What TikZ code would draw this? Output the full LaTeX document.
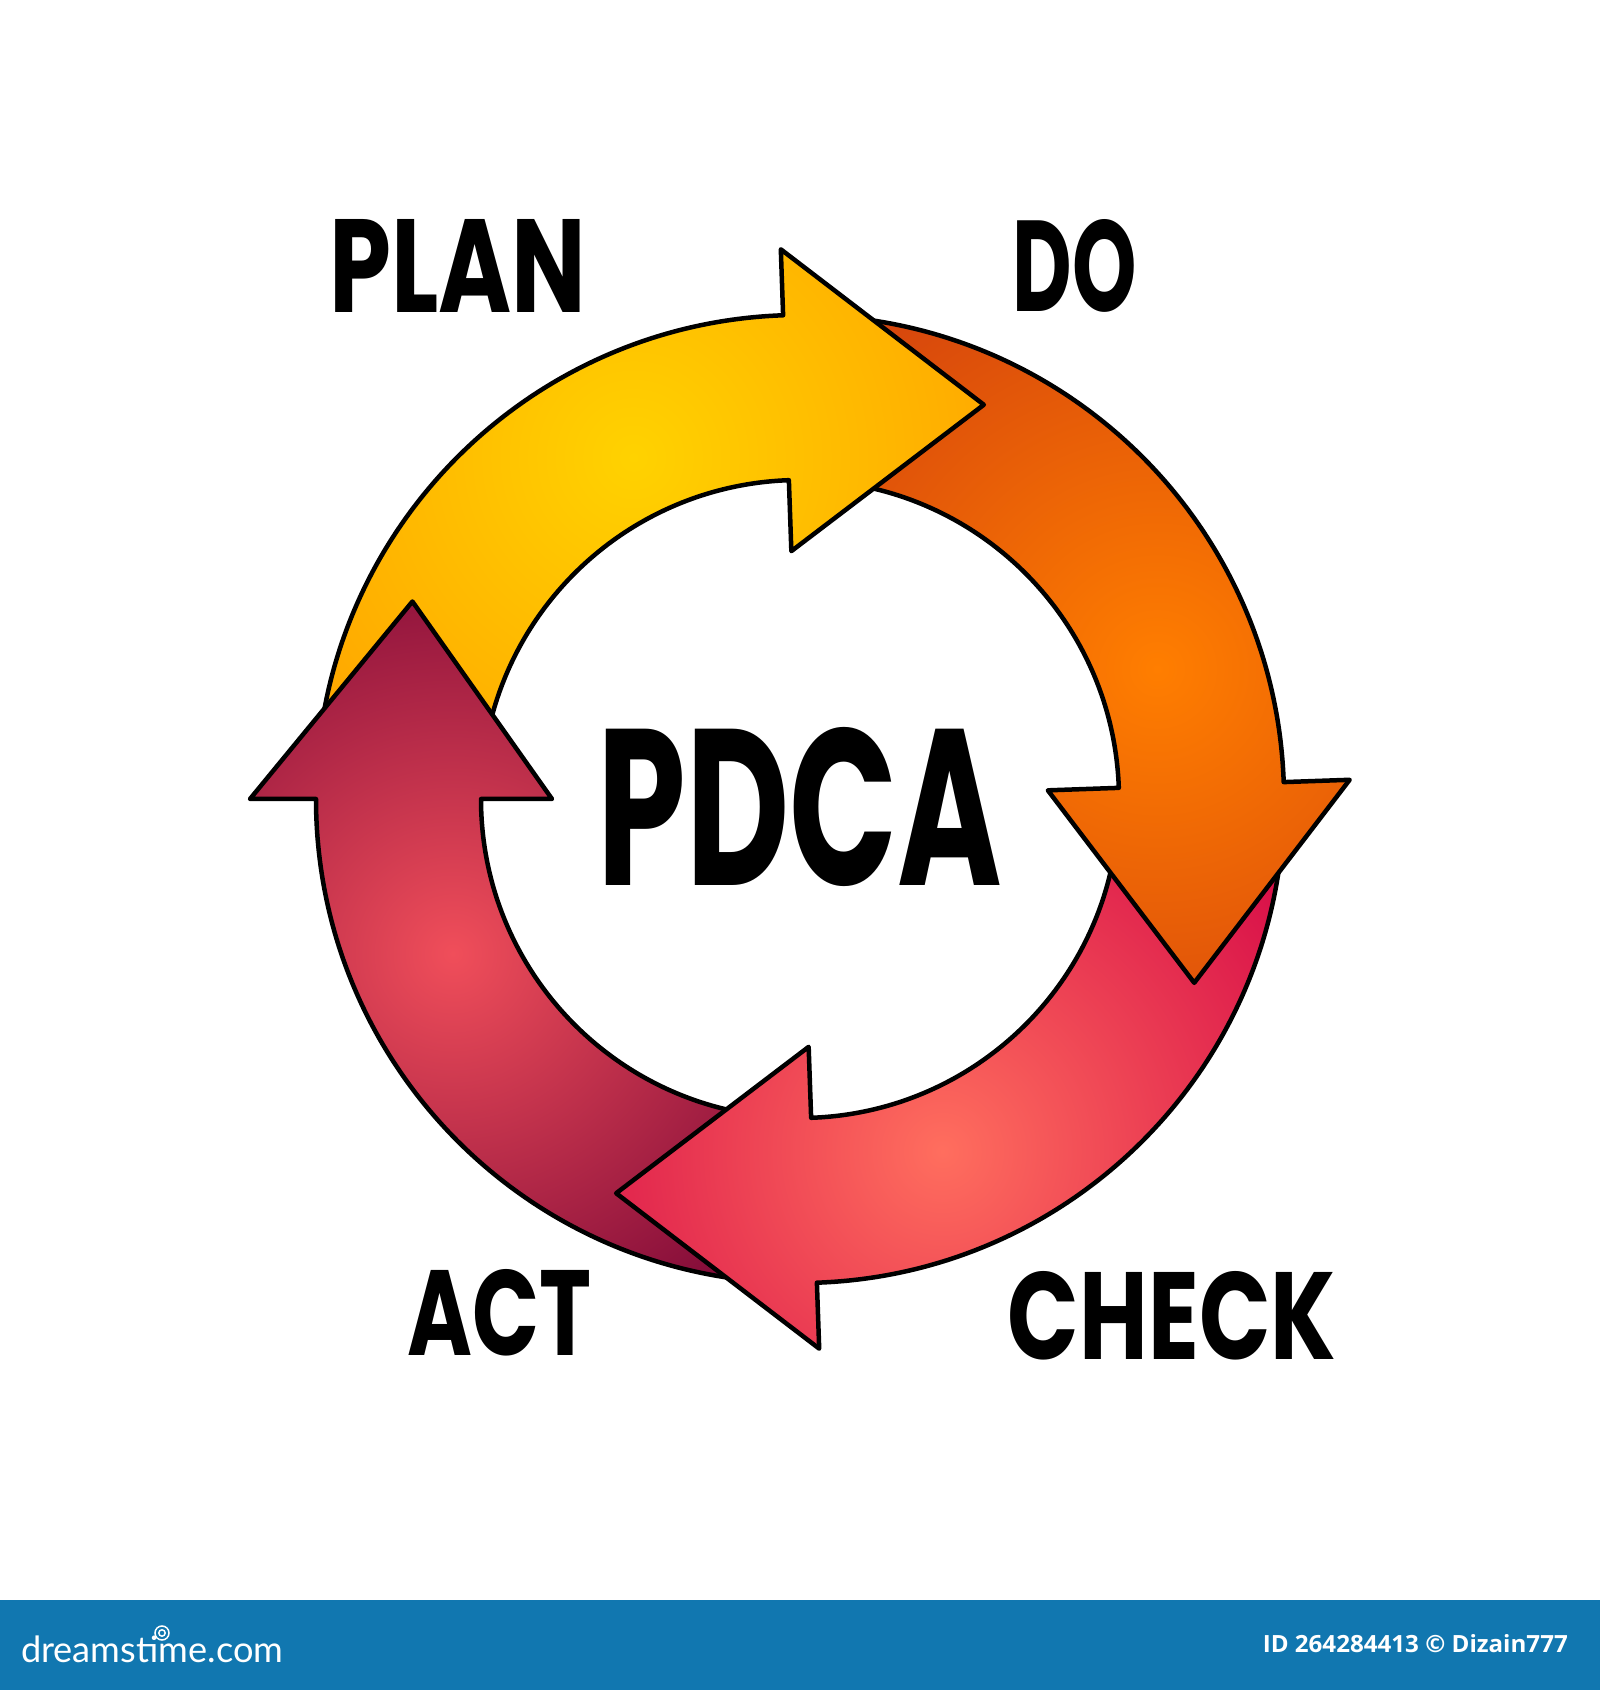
\documentclass[tikz,border=0pt]{standalone}
\usepackage{fontspec}
\usepackage{graphicx}
\setmainfont{Open Sans}
\newfontfamily\handfont{Poppins}
\newfontfamily\logofont{Lato}
\usetikzlibrary{calc}

\definecolor{planIn}{HTML}{FFD200}
\definecolor{planOut}{HTML}{FF9400}
\definecolor{doIn}{HTML}{FF7E00}
\definecolor{doOut}{HTML}{CF3C0F}
\definecolor{checkIn}{HTML}{FF6E5E}
\definecolor{checkOut}{HTML}{D20045}
\definecolor{actIn}{HTML}{F04E5A}
\definecolor{actOut}{HTML}{700033}
\definecolor{bannerblue}{HTML}{1177B0}

\tikzset{
  arrowline/.style={draw=black, line width=4.5pt, line join=round, line cap=round},
  lbl/.style={inner sep=0pt, font=\handfont\bfseries},
}

% outline of one whole arrow: #1 tail angle, #2 base angle (uses \tipang)
\newcommand\pdcashape[2]{%
  ($(C)+(#1:484)$) arc[start angle=#1, end angle=#2, radius=484]
  -- ($(C)+(#2:550)$) -- ($(C)+(\tipang:435)$) -- ($(C)+(#2:248)$)
  -- ($(C)+(#2:319)$) arc[start angle=#2, end angle=#1, radius=319] -- cycle}
% clip: everything except the head of the previous arrow (#1 its base angle)
\newcommand\pdcaexclude[1]{%
  \pgfmathsetmacro\ptip{#1-27}%
  \clip (0,0) -- (1600,0) -- (1600,1690) -- (0,1690) -- cycle
    ($(C)+(#1:550)$) -- ($(C)+(\ptip:435)$) -- ($(C)+(#1:248)$) -- cycle;}
% fill: #1 tail, #2 base, #3 previous base, #4 inner, #5 outer, #6 shade angle, #7 shade radius
\newcommand\pdcafill[7]{%
  \pgfmathsetmacro\tipang{#2-27}%
  \begin{scope}
    \pdcaexclude{#3}
    \clip \pdcashape{#1}{#2};
    \fill[#5] ($(C)+(#6:380)$) circle (900);
    \shade[inner color=#4, outer color=#5] ($(C)+(#6:380)$) circle (#7);
  \end{scope}}
% outline: #1 tail, #2 base, #3 previous base
\newcommand\pdcaline[3]{%
  \pgfmathsetmacro\tipang{#2-27}%
  \begin{scope}
    \pdcaexclude{#3}
    \draw[arrowline] \pdcashape{#1}{#2};
  \end{scope}}

\begin{document}
\begin{tikzpicture}[x=1pt,y=1pt]
\useasboundingbox (0,0) rectangle (1600,1690);
\fill[white] (0,0) rectangle (1600,1690);
\coordinate (C) at (800,891);

% arrow fills
\pdcafill{175}{92}{180}{planIn}{planOut}{116}{570}
\pdcafill{87}{2}{92}{doIn}{doOut}{20}{520}
\pdcafill{-3}{-88}{2}{checkIn}{checkOut}{-68}{500}
\pdcafill{267}{180}{272}{actIn}{actOut}{204}{490}
% arrow outlines
\pdcaline{175}{92}{180}
\pdcaline{87}{2}{92}
\pdcaline{-3}{-88}{2}
\pdcaline{267}{180}{272}

% labels
\node[lbl] (plan) at (458,1424) {\resizebox{257pt}{93pt}{PLAN}};
\node[lbl] (do) at (1075,1424) {\resizebox{124pt}{92pt}{DO}};
\node[lbl] (act) at (500,377) {\resizebox{184pt}{86pt}{ACT}};
\node[lbl] (check) at (1172,374) {\resizebox{328pt}{88pt}{CHECK}};
\node[lbl] (pdca) at (800,883) {\resizebox{405pt}{158pt}{PDCA}};

% banner
\fill[bannerblue] (0,0) rectangle (1600,90);
\node[anchor=south west, inner sep=0pt, text=white] (logo) at (21,27)
  {\resizebox{262pt}{!}{\logofont dreamstime.com}};
\draw[white, line width=1.5pt] (162,57) circle (7) (162,57) circle (3.2);
\node[anchor=south east, inner sep=0pt, text=white] (id) at (1568,37)
  {\resizebox{305pt}{18pt}{\bfseries ID 264284413 © Dizain777}};
\end{tikzpicture}
\end{document}
